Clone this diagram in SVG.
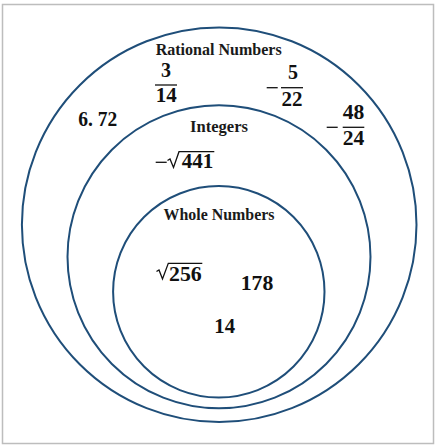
<svg xmlns="http://www.w3.org/2000/svg" width="437" height="446" viewBox="0 0 437 446">
<style>
.c{fill:none;stroke:#1f4e79;stroke-width:2}
.lab{font-family:"Liberation Serif",serif;font-weight:bold;font-size:16px;fill:#1a1a1a;text-anchor:middle}
.n{font-family:"Liberation Serif",serif;font-weight:bold;font-size:20px;fill:#111;text-anchor:middle}
.bar{stroke:#111;stroke-width:1.3;fill:none}
</style>
<rect x="2.5" y="4.5" width="431" height="439" fill="#fff" stroke="#bdbdbd" stroke-width="1.5"/>
<g id="rational">
<circle class="c" cx="219.2" cy="224.7" r="197.3"/>
<text class="lab" x="218.7" y="55" textLength="126" lengthAdjust="spacingAndGlyphs">Rational Numbers</text>
</g>
<g id="integers">
<circle class="c" cx="219" cy="256.8" r="151.5"/>
<text class="lab" x="219" y="132" textLength="58" lengthAdjust="spacingAndGlyphs">Integers</text>
</g>
<g id="whole">
<circle class="c" cx="218.8" cy="291.8" r="105.7"/>
<text class="lab" x="219" y="220" textLength="111" lengthAdjust="spacingAndGlyphs">Whole Numbers</text>
</g>
<g id="values">
<text class="n" x="166" y="77">3</text>
<line class="bar" x1="155" y1="85" x2="177" y2="85"/>
<text class="n" x="166.2" y="102" textLength="21" lengthAdjust="spacingAndGlyphs">14</text>

<line class="bar" x1="266.7" y1="87.7" x2="277.7" y2="87.7"/>
<text class="n" x="293" y="79">5</text>
<line class="bar" x1="281" y1="87.7" x2="303" y2="87.7"/>
<text class="n" x="292" y="106" textLength="21" lengthAdjust="spacingAndGlyphs">22</text>

<text class="n" x="97.8" y="126" textLength="39" lengthAdjust="spacingAndGlyphs">6. 72</text>

<line class="bar" x1="326.7" y1="127.3" x2="337.7" y2="127.3"/>
<text class="n" x="353.5" y="119" textLength="21.6" lengthAdjust="spacingAndGlyphs">48</text>
<line class="bar" x1="342.7" y1="127.3" x2="364.3" y2="127.3"/>
<text class="n" x="353.5" y="145" textLength="21.6" lengthAdjust="spacingAndGlyphs">24</text>

<line class="bar" x1="155.7" y1="162.3" x2="166.7" y2="162.3"/>
<path class="bar" d="M167.5 160.5 L170 159 L173.5 167.5 L179 151.7 L214.3 151.7"/>
<text class="n" x="197.5" y="168" textLength="31.6" lengthAdjust="spacingAndGlyphs">441</text>

<path class="bar" d="M156.5 271.5 L159 270 L162.5 279 L168.3 263.3 L202.3 263.3"/>
<text class="n" x="185.4" y="281" textLength="32.7" lengthAdjust="spacingAndGlyphs">256</text>

<text class="n" x="257" y="290" textLength="32.6" lengthAdjust="spacingAndGlyphs">178</text>
<text class="n" x="224.7" y="332.5" textLength="20.7" lengthAdjust="spacingAndGlyphs">14</text>
</g>
</svg>
